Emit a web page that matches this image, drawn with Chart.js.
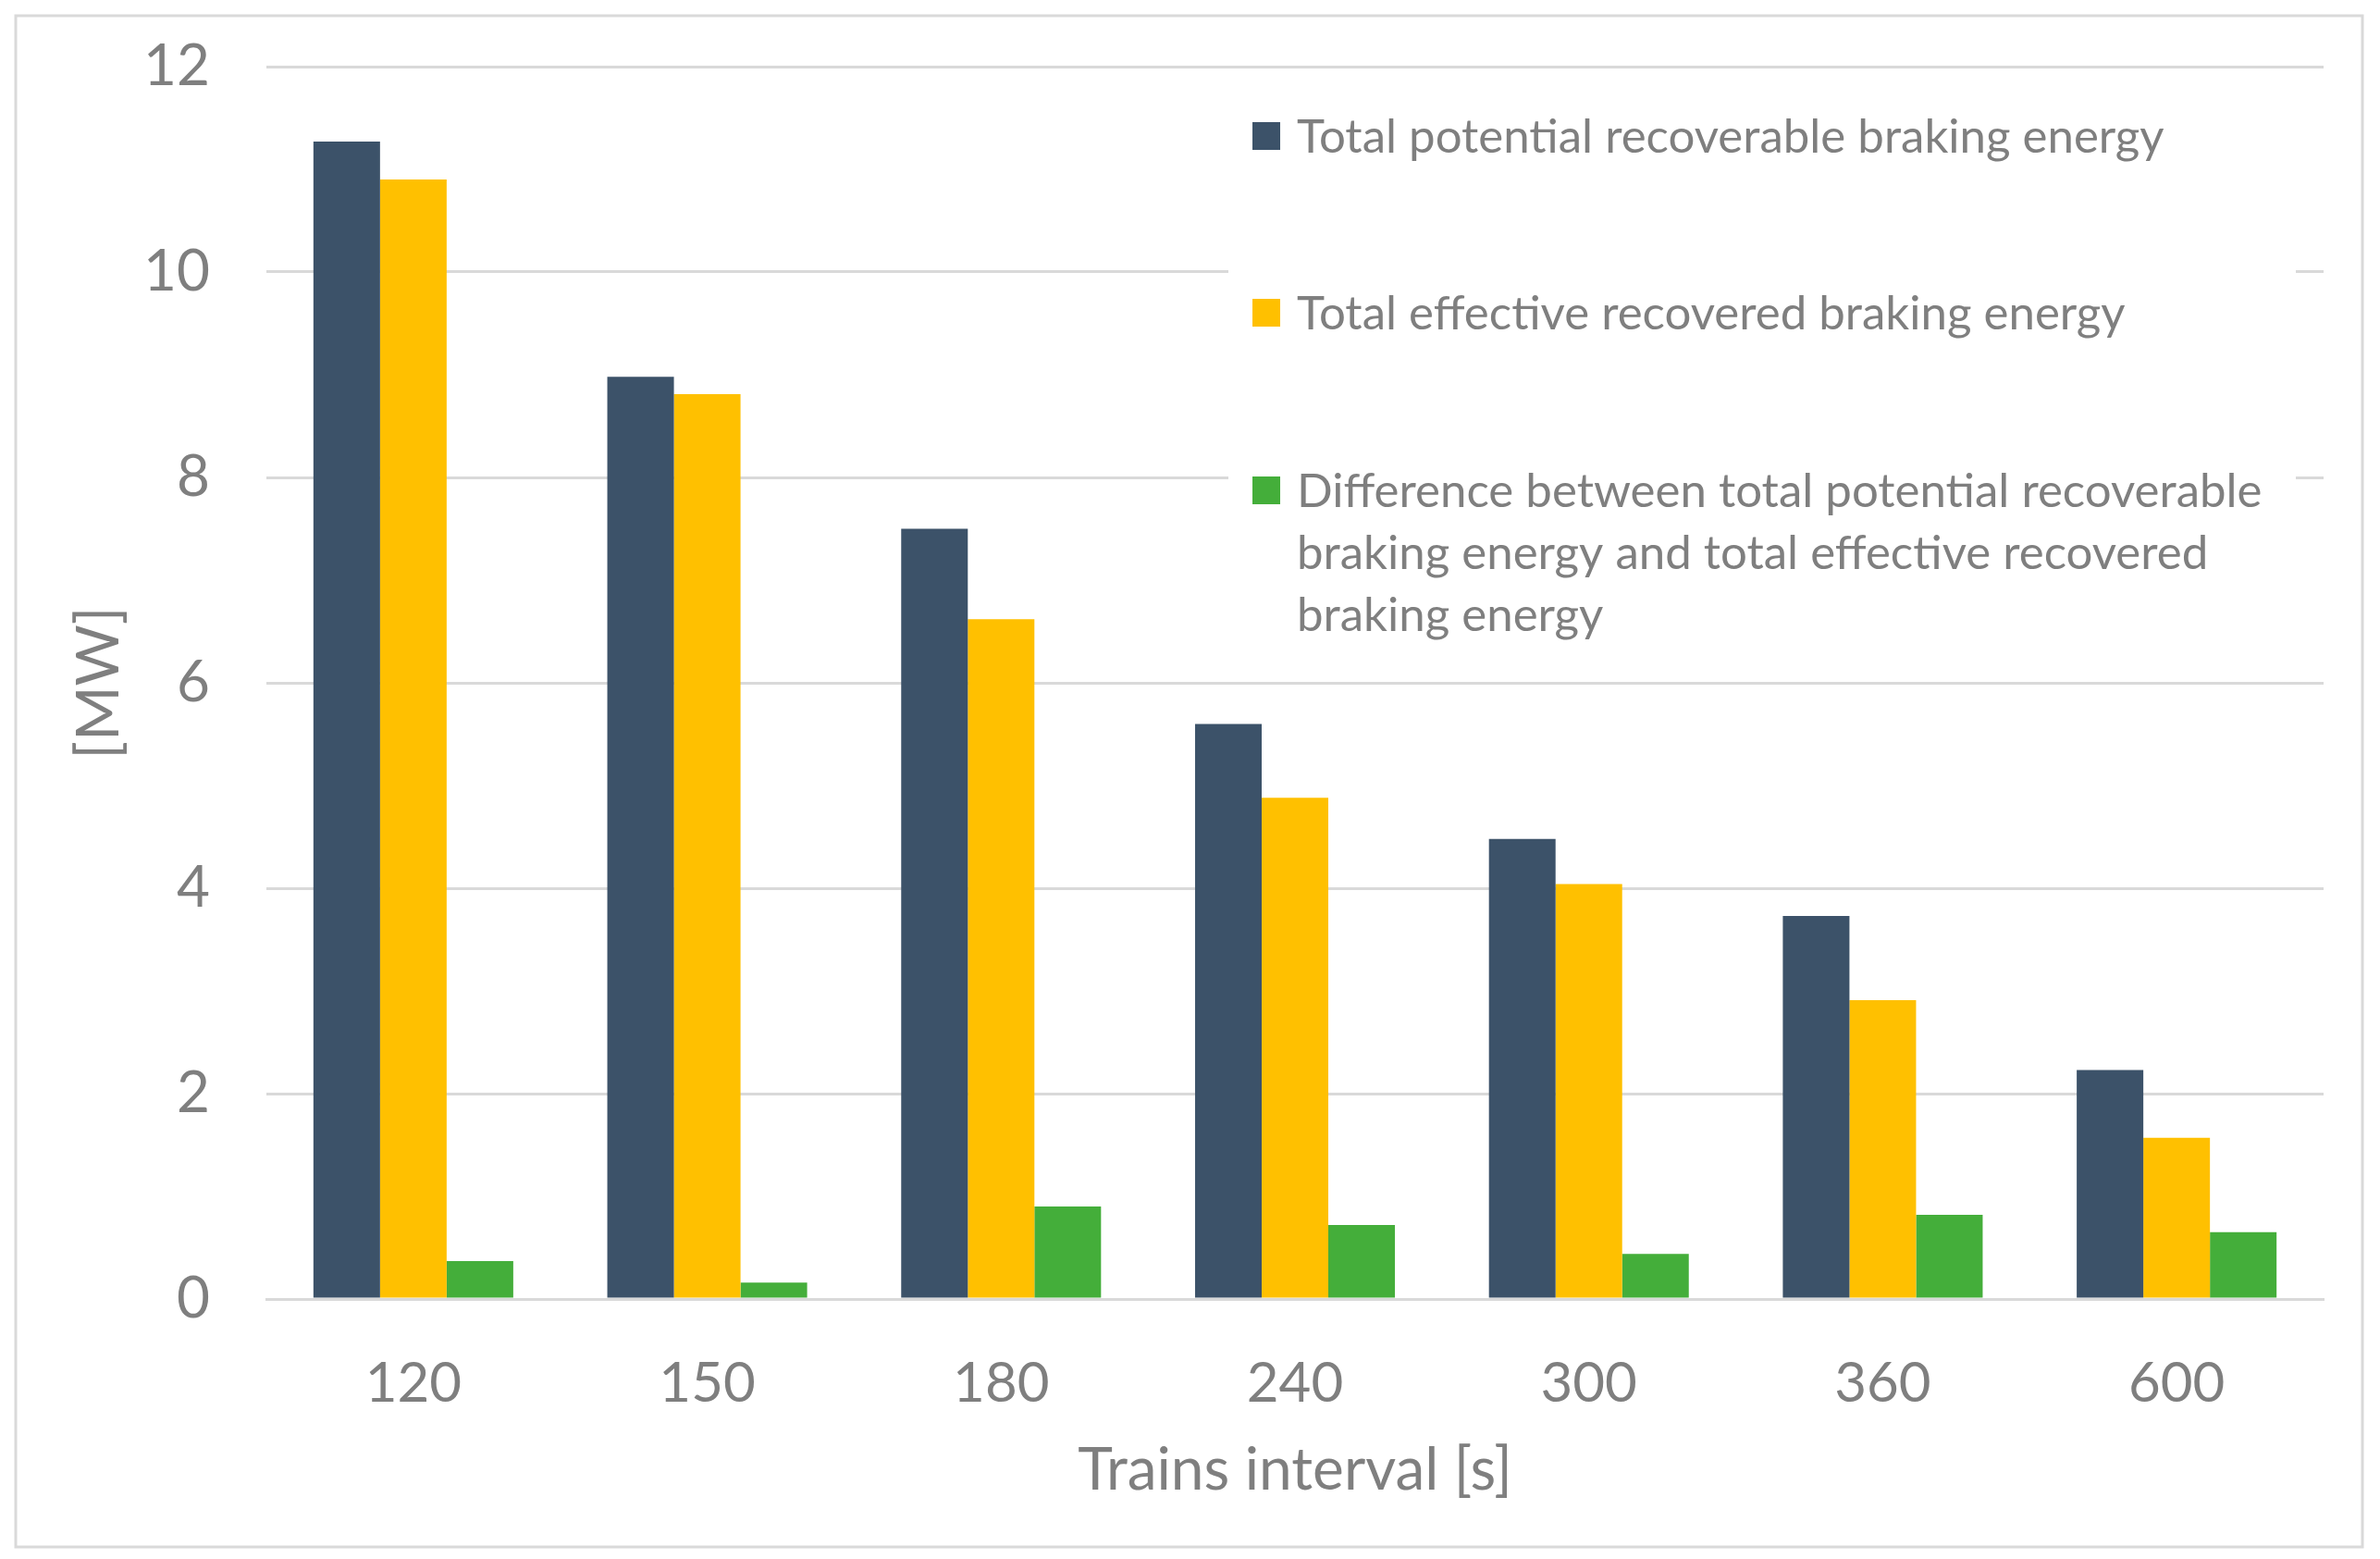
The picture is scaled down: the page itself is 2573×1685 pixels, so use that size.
<!DOCTYPE html>
<html>
<head>
<meta charset="utf-8">
<script src="https://cdn.jsdelivr.net/npm/chart.js@4.4.0/dist/chart.umd.min.js"></script>
<style>
html,body{margin:0;padding:0;background:#fff;}
canvas{display:block;}
</style>
</head>
<body>
<canvas id="c" width="2573" height="1685"></canvas>
<script>
const categories = ["120", "150", "180", "240", "300", "360", "600"];
const potentialEnergy = [11.27, 8.98, 7.50, 5.60, 4.48, 3.73, 2.23];
const effectiveEnergy = [10.90, 8.81, 6.62, 4.88, 4.04, 2.91, 1.57];
const differenceEnergy = [0.37, 0.16, 0.90, 0.72, 0.44, 0.82, 0.65];
const seriesLabels = [
  "Total potential recoverable braking energy",
  "Total effective recovered braking energy",
  "Difference between total potential recoverable braking energy and total effective recovered braking energy"
];
const yTicks = [0, 2, 4, 6, 8, 10, 12];
const xTitle = "Trains interval [s]";
const yTitle = "[MW]";

const FONT = "Lato";
const TEXT = "#7f7f7f";
const GRID = "#d9d9d9";

const framePlugin = {
  id: "frame",
  beforeDraw(chart) {
    const ctx = chart.ctx;
    ctx.save();
    ctx.fillStyle = "#ffffff";
    ctx.fillRect(0, 0, chart.width, chart.height);
    ctx.strokeStyle = GRID;
    ctx.lineWidth = 3;
    ctx.strokeRect(17, 17, chart.width - 36, chart.height - 30);
    ctx.restore();
  }
};

const legendPlugin = {
  id: "sideLegend",
  afterDatasetsDraw(chart) {
    const ctx = chart.ctx;
    const a = chart.chartArea;
    const boxLeft = a.right - 1184;
    const boxRight = a.right - 30;
    ctx.save();
    ctx.fillStyle = "#ffffff";
    ctx.fillRect(boxLeft, a.top + 20, boxRight - boxLeft, 600);
    ctx.font = "51px " + FONT;
    ctx.textBaseline = "middle";
    ctx.textAlign = "left";
    const swatchX = a.right - 1158;
    const textX = a.right - 1110;
    const maxW = boxRight - textX + 20;
    const itemY = [75, 266, 458];
    const lineH = 67;
    chart.data.datasets.forEach((ds, i) => {
      const y = a.top + itemY[i];
      ctx.fillStyle = ds.backgroundColor;
      ctx.fillRect(swatchX, y - 15, 30, 30);
      ctx.fillStyle = TEXT;
      const words = ds.label.split(" ");
      const lines = [];
      let cur = "";
      words.forEach(w => {
        const test = cur ? cur + " " + w : w;
        if (ctx.measureText(test).width > maxW && cur) {
          lines.push(cur);
          cur = w;
        } else {
          cur = test;
        }
      });
      if (cur) lines.push(cur);
      lines.forEach((ln, k) => ctx.fillText(ln, textX, y + k * lineH + 2));
    });
    ctx.restore();
  }
};

new Chart(document.getElementById("c"), {
  type: "bar",
  data: {
    labels: categories,
    datasets: [
      { label: seriesLabels[0], data: potentialEnergy, backgroundColor: "#3c5269" },
      { label: seriesLabels[1], data: effectiveEnergy, backgroundColor: "#ffc000" },
      { label: seriesLabels[2], data: differenceEnergy, backgroundColor: "#44ae3a" }
    ]
  },
  options: {
    responsive: false,
    devicePixelRatio: 1,
    animation: false,
    layout: { padding: { left: 60, right: 61, top: 72, bottom: 40 } },
    datasets: { bar: { categoryPercentage: 0.68, barPercentage: 1.0, borderWidth: 0 } },
    plugins: {
      legend: { display: false },
      tooltip: { enabled: false }
    },
    scales: {
      x: {
        grid: { display: false, drawTicks: false },
        border: { display: true, color: GRID, width: 3 },
        ticks: { color: TEXT, font: { family: FONT, size: 60 }, padding: 56 },
        title: { display: true, text: xTitle, color: TEXT, font: { family: FONT, size: 64 }, padding: { top: 0, bottom: 17 } },
        afterFit(scale) { scale.height = 241; scale.paddingLeft = 0; scale.paddingRight = 0; }
      },
      y: {
        min: 0,
        max: 12,
        afterBuildTicks(scale) { scale.ticks = yTicks.map(v => ({ value: v })); },
        grid: { color: GRID, lineWidth: 3, drawTicks: false },
        border: { display: false },
        ticks: { color: TEXT, font: { family: FONT, size: 62 }, padding: 61 },
        title: { display: true, text: yTitle, color: TEXT, font: { family: FONT, size: 64 }, padding: { top: 9, bottom: 0 } },
        afterFit(scale) { scale.width = 228; scale.paddingTop = 0; scale.paddingBottom = 0; }
      }
    }
  },
  plugins: [framePlugin, legendPlugin]
});
</script>
</body>
</html>
